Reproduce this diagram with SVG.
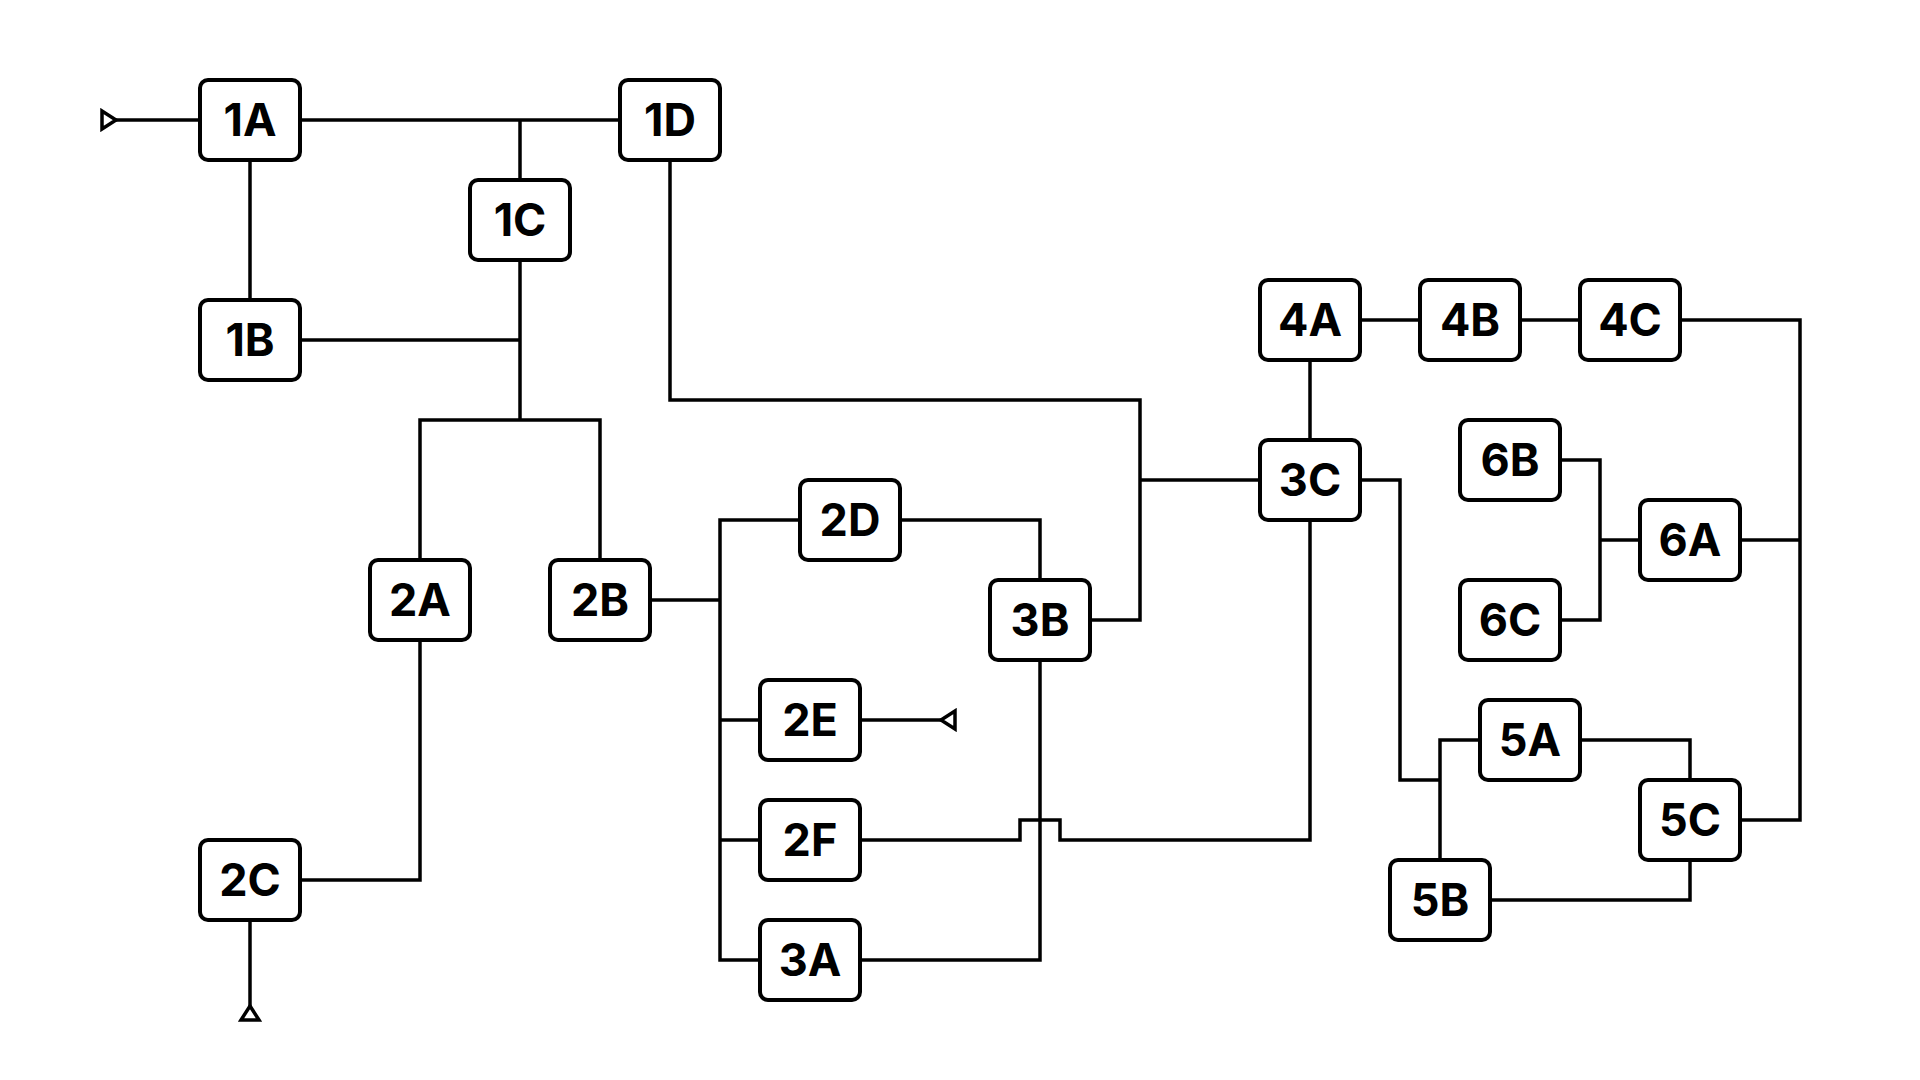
<svg xmlns="http://www.w3.org/2000/svg" width="1920" height="1080" viewBox="0 0 1920 1080">
<style>
.n rect{fill:#fff;stroke:#000;stroke-width:4}
.n text{font-family:Inter,"Liberation Sans",sans-serif;font-weight:700;font-size:45px;text-anchor:middle;fill:#000}
.c path{fill:none;stroke:#000;stroke-width:3.5;stroke-linejoin:miter}
</style>
<defs>
<marker id="tri" markerUnits="userSpaceOnUse" viewBox="-20 -12 24 24" refX="0" refY="0" markerWidth="24" markerHeight="24" orient="auto">
<path d="M-1,-9 L-15,0 L-1,9 Z" fill="#fff" stroke="#000" stroke-width="3.5" stroke-linejoin="miter"/>
</marker>
</defs>
<rect width="1920" height="1080" fill="#fff"/>
<g id="connectors" class="c">
<path d="M200,120 L101,120" marker-end="url(#tri)"/>
<path d="M300,120 L620,120"/>
<path d="M520,120 L520,180"/>
<path d="M250,160 L250,300"/>
<path d="M520,260 L520,420"/>
<path d="M300,340 L520,340"/>
<path d="M420,560 L420,420 L600,420 L600,560"/>
<path d="M420,640 L420,880 L300,880"/>
<path d="M250,920 L250,1021" marker-end="url(#tri)"/>
<path d="M670,160 L670,400 L1140,400 L1140,620 L1090,620"/>
<path d="M1140,480 L1260,480"/>
<path d="M650,600 L720,600"/>
<path d="M800,520 L720,520 L720,960 L760,960"/>
<path d="M720,720 L760,720"/>
<path d="M720,840 L760,840"/>
<path d="M900,520 L1040,520 L1040,580"/>
<path d="M1040,660 L1040,960 L860,960"/>
<path d="M860,720 L956,720" marker-end="url(#tri)"/>
<path d="M860,840 L1020,840 L1020,820 L1060,820 L1060,840 L1310,840 L1310,520"/>
<path d="M1310,360 L1310,440"/>
<path d="M1360,320 L1420,320"/>
<path d="M1520,320 L1580,320"/>
<path d="M1680,320 L1800,320 L1800,820 L1740,820"/>
<path d="M1740,540 L1800,540"/>
<path d="M1560,460 L1600,460 L1600,620 L1560,620"/>
<path d="M1600,540 L1640,540"/>
<path d="M1360,480 L1400,480 L1400,780 L1440,780"/>
<path d="M1480,740 L1440,740 L1440,860"/>
<path d="M1580,740 L1690,740 L1690,780"/>
<path d="M1690,860 L1690,900 L1490,900"/>
</g>
<g id="n1A" class="n"><rect x="200" y="80" width="100" height="80" rx="8"/><text x="250" y="136">1A</text></g>
<g id="n1B" class="n"><rect x="200" y="300" width="100" height="80" rx="8"/><text x="250" y="356">1B</text></g>
<g id="n1C" class="n"><rect x="470" y="180" width="100" height="80" rx="8"/><text x="520" y="236">1C</text></g>
<g id="n1D" class="n"><rect x="620" y="80" width="100" height="80" rx="8"/><text x="670" y="136">1D</text></g>
<g id="n2A" class="n"><rect x="370" y="560" width="100" height="80" rx="8"/><text x="420" y="616">2A</text></g>
<g id="n2B" class="n"><rect x="550" y="560" width="100" height="80" rx="8"/><text x="600" y="616">2B</text></g>
<g id="n2C" class="n"><rect x="200" y="840" width="100" height="80" rx="8"/><text x="250" y="896">2C</text></g>
<g id="n2D" class="n"><rect x="800" y="480" width="100" height="80" rx="8"/><text x="850" y="536">2D</text></g>
<g id="n2E" class="n"><rect x="760" y="680" width="100" height="80" rx="8"/><text x="810" y="736">2E</text></g>
<g id="n2F" class="n"><rect x="760" y="800" width="100" height="80" rx="8"/><text x="810" y="856">2F</text></g>
<g id="n3A" class="n"><rect x="760" y="920" width="100" height="80" rx="8"/><text x="810" y="976">3A</text></g>
<g id="n3B" class="n"><rect x="990" y="580" width="100" height="80" rx="8"/><text x="1040" y="636">3B</text></g>
<g id="n3C" class="n"><rect x="1260" y="440" width="100" height="80" rx="8"/><text x="1310" y="496">3C</text></g>
<g id="n4A" class="n"><rect x="1260" y="280" width="100" height="80" rx="8"/><text x="1310" y="336">4A</text></g>
<g id="n4B" class="n"><rect x="1420" y="280" width="100" height="80" rx="8"/><text x="1470" y="336">4B</text></g>
<g id="n4C" class="n"><rect x="1580" y="280" width="100" height="80" rx="8"/><text x="1630" y="336">4C</text></g>
<g id="n6B" class="n"><rect x="1460" y="420" width="100" height="80" rx="8"/><text x="1510" y="476">6B</text></g>
<g id="n6C" class="n"><rect x="1460" y="580" width="100" height="80" rx="8"/><text x="1510" y="636">6C</text></g>
<g id="n6A" class="n"><rect x="1640" y="500" width="100" height="80" rx="8"/><text x="1690" y="556">6A</text></g>
<g id="n5A" class="n"><rect x="1480" y="700" width="100" height="80" rx="8"/><text x="1530" y="756">5A</text></g>
<g id="n5B" class="n"><rect x="1390" y="860" width="100" height="80" rx="8"/><text x="1440" y="916">5B</text></g>
<g id="n5C" class="n"><rect x="1640" y="780" width="100" height="80" rx="8"/><text x="1690" y="836">5C</text></g>
</svg>
